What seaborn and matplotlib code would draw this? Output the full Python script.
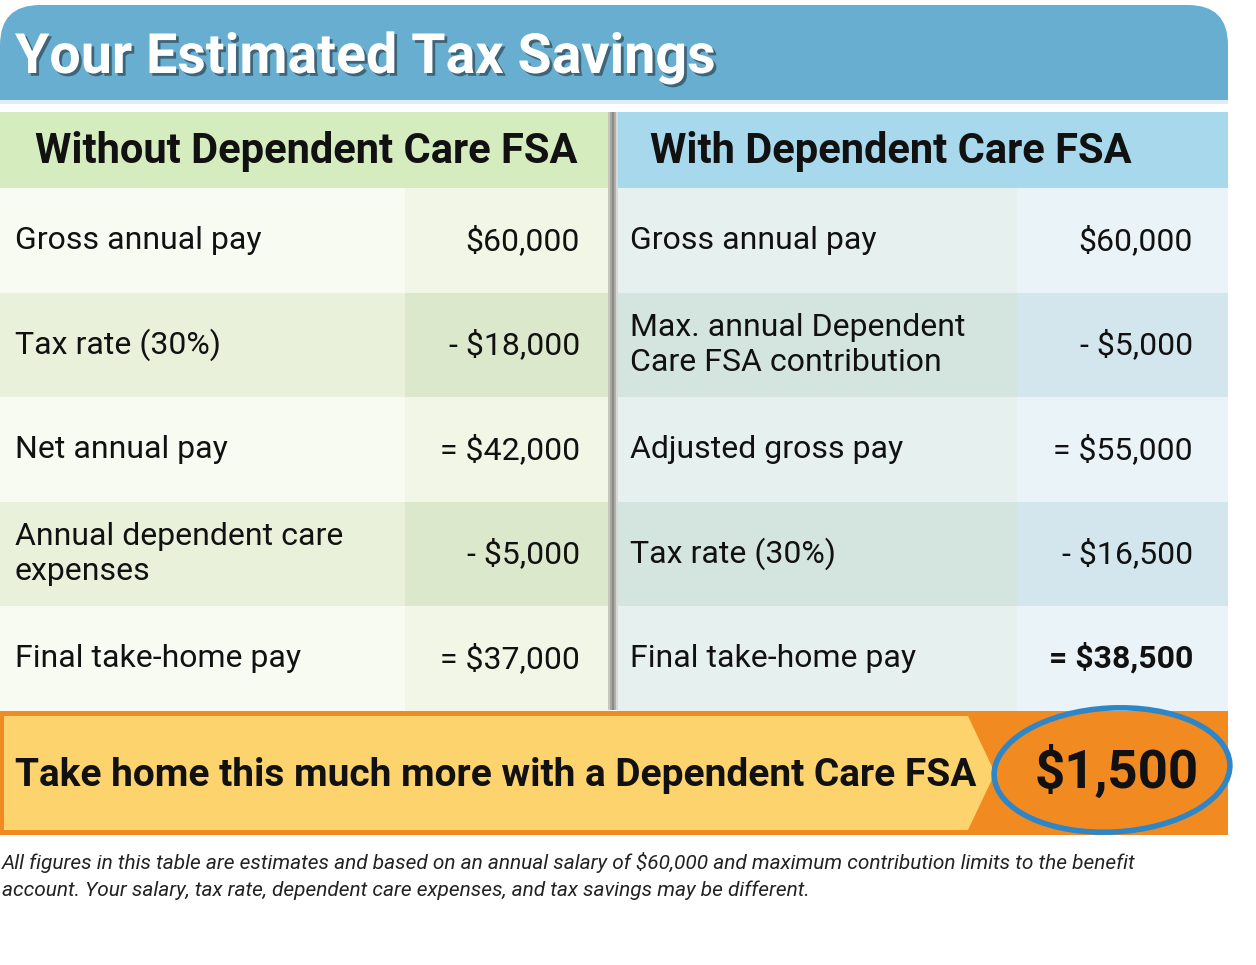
import matplotlib.pyplot as plt
import seaborn as sns
from matplotlib.patches import Rectangle, FancyBboxPatch, Polygon, Ellipse
import matplotlib.patheffects as pe

# Datos de la tabla
titulo = "Your Estimated Tax Savings"
cabecera_sin = "Without Dependent Care FSA"
cabecera_con = "With Dependent Care FSA"
etiquetas_sin = ["Gross annual pay", "Tax rate (30%)", "Net annual pay",
                 "Annual dependent care\nexpenses", "Final take-home pay"]
valores_sin = ["$60,000", "- $18,000", "= $42,000", "- $5,000", "= $37,000"]
etiquetas_con = ["Gross annual pay", "Max. annual Dependent\nCare FSA contribution",
                 "Adjusted gross pay", "Tax rate (30%)", "Final take-home pay"]
valores_con = ["$60,000", "- $5,000", "= $55,000", "- $16,500", "= $38,500"]
texto_ahorro = "Take home this much more with a Dependent Care FSA"
ahorro = "$1,500"
nota = ("All figures in this table are estimates and based on an annual salary of $60,000 and maximum contribution limits to the benefit\n"
        "account. Your salary, tax rate, dependent care expenses, and tax savings may be different.")

sns.set_theme(style="white")
fig = plt.figure(figsize=(12.56, 9.65), dpi=100)
ax = fig.add_axes([0, 0, 1, 1])
ax.set_xlim(0, 1256)
ax.set_ylim(965, 0)
ax.axis("off")

FUENTE = "Roboto"

# Cabecera azul
ax.add_patch(FancyBboxPatch((0, 5), 1228, 140, boxstyle="round,pad=0,rounding_size=40",
                            fc="#68aed0", ec="none"))
ax.add_patch(Rectangle((0, 103), 1256, 60, fc="white", ec="none"))
ax.add_patch(Rectangle((0, 100), 1228, 4, fc="#dfeef5", ec="none"))
ax.text(15, 58, titulo, color="white", fontsize=40, fontweight="bold", family=FUENTE,
        va="center", path_effects=[pe.withSimplePatchShadow(offset=(2, -2), shadow_rgbFace="#3a5c6e", alpha=0.9)])

# Cabeceras de columnas
ax.add_patch(Rectangle((0, 112), 612, 76, fc="#d5ecbf", ec="none"))
ax.add_patch(Rectangle((617, 112), 611, 76, fc="#a7d8ec", ec="none"))
ax.text(35, 151, cabecera_sin, fontsize=30, fontweight="bold", family=FUENTE, va="center", color="#111")
ax.text(650, 151, cabecera_con, fontsize=30, fontweight="bold", family=FUENTE, va="center", color="#111")

# Filas
alto = 104.5
for i in range(5):
    y0 = 188 + i * alto
    par = i % 2 == 1
    ax.add_patch(Rectangle((0, y0), 405, alto, fc="#e9f1db" if par else "#f8fbf1", ec="none"))
    ax.add_patch(Rectangle((405, y0), 205, alto, fc="#dbe8cb" if par else "#f1f6e6", ec="none"))
    ax.add_patch(Rectangle((617, y0), 400, alto, fc="#d4e4df" if par else "#e6f0ee", ec="none"))
    ax.add_patch(Rectangle((1017, y0), 211, alto, fc="#d3e6ee" if par else "#eaf3f8", ec="none"))
    yc = y0 + alto / 2
    kw = dict(fontsize=23, family=FUENTE, va="center", color="#111", linespacing=1.25)
    ax.text(15, yc, etiquetas_sin[i], **kw)
    ax.text(580, yc, valores_sin[i], ha="right", **kw)
    ax.text(630, yc, etiquetas_con[i], **kw)
    ax.text(1193, yc, valores_con[i], ha="right",
            fontweight="bold" if i == 4 else "normal", **kw)

# Sombra del separador
for k, c in enumerate(["#c8c8c0", "#a8a8a0", "#8a8a84", "#b0b0aa", "#d8d8d4"]):
    ax.add_patch(Rectangle((608 + k * 2, 112), 2, 598, fc=c, ec="none"))

# Barra de ahorro
ax.add_patch(Rectangle((0, 711), 1228, 124, fc="#f28a22", ec="none"))
ax.add_patch(Polygon([(4, 716), (968, 716), (995, 773), (968, 830), (4, 830)],
                     closed=True, fc="#fdd36d", ec="none"))
ax.text(15, 776, texto_ahorro, fontsize=28, fontweight="bold", family=FUENTE, va="center", color="#111")
ax.add_patch(Ellipse((1112, 770), 236, 124, fc="none", ec="#2f86c6", lw=4, angle=-3))
ax.text(1117, 772, ahorro, fontsize=38, fontweight="bold", family=FUENTE,
        ha="center", va="center", color="#111")

# Nota al pie
ax.text(2, 876, nota, fontsize=15, family=FUENTE, style="italic", va="center",
        color="#222", linespacing=1.45)

fig.savefig("out.png", dpi=100)
